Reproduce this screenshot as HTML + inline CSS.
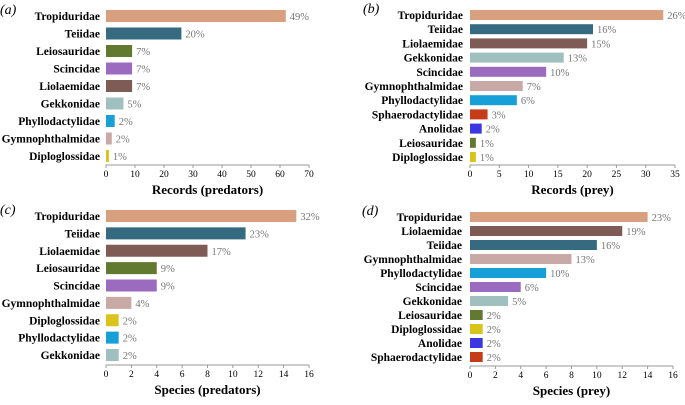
<!DOCTYPE html>
<html><head><meta charset="utf-8"><style>
body{margin:0;background:#fff;width:685px;height:400px;overflow:hidden}
svg text{font-family:"Liberation Serif",serif}
</style></head><body>
<svg id="c" width="685" height="400"></svg>
<script>
const colors={Tropiduridae:"#d8a07f",Teiidae:"#356a80",Leiosauridae:"#627a2f",Scincidae:"#9b6bc0",Liolaemidae:"#7e5b55",Gekkonidae:"#a0bfbf",Phyllodactylidae:"#17a0d8",Gymnophthalmidae:"#c8a9a6",Diploglossidae:"#d9c41b",Sphaerodactylidae:"#c63b18",Anolidae:"#3a38e0"};
const catsA=["Tropiduridae","Teiidae","Leiosauridae","Scincidae","Liolaemidae","Gekkonidae","Phyllodactylidae","Gymnophthalmidae","Diploglossidae"];
const valsA=[62,26,9,9,9,6,3,2,1];
const pctA=["49%","20%","7%","7%","7%","5%","2%","2%","1%"];
const catsB=["Tropiduridae","Teiidae","Liolaemidae","Gekkonidae","Scincidae","Gymnophthalmidae","Phyllodactylidae","Sphaerodactylidae","Anolidae","Leiosauridae","Diploglossidae"];
const valsB=[33,21,20,16,13,9,8,3,2,1,1];
const pctB=["26%","16%","15%","13%","10%","7%","6%","3%","2%","1%","1%"];
const catsC=["Tropiduridae","Teiidae","Liolaemidae","Leiosauridae","Scincidae","Gymnophthalmidae","Diploglossidae","Phyllodactylidae","Gekkonidae"];
const valsC=[15,11,8,4,4,2,1,1,1];
const pctC=["32%","23%","17%","9%","9%","4%","2%","2%","2%"];
const catsD=["Tropiduridae","Liolaemidae","Teiidae","Gymnophthalmidae","Phyllodactylidae","Scincidae","Gekkonidae","Leiosauridae","Diploglossidae","Anolidae","Sphaerodactylidae"];
const valsD=[14,12,10,8,6,4,3,1,1,1,1];
const pctD=["23%","19%","16%","13%","10%","6%","5%","2%","2%","2%","2%"];
const ticksA=[0,10,20,30,40,50,60,70],ticksB=[0,5,10,15,20,25,30,35],ticksC=[0,2,4,6,8,10,12,14,16],ticksD=[0,2,4,6,8,10,12,14,16];
const svg=document.getElementById('c');const NS="http://www.w3.org/2000/svg";
function mk(t,a,txt){const e=document.createElementNS(NS,t);for(const k in a)e.setAttribute(k,a[k]);if(txt!==undefined)e.textContent=txt;svg.appendChild(e);return e;}
function panel(id,letter,cats,vals,pcts,ticks,title,x0,x1,yTop,yBot,axisY,bh,lx){
  const max=ticks[ticks.length-1];const sx=v=>x0+(x1-x0)*v/max;
  const step=(yBot-yTop)/(cats.length-1);
  let e=mk('text',{x:lx-100,y:yTop-2,'font-size':14,'font-style':'italic'},'('+letter+')');
  
  cats.forEach((c,i)=>{const cy=yTop+i*step;
    let t=mk('text',{x:lx,y:cy+4,'font-size':11.5,'font-weight':'bold','text-anchor':'end'},c);
    
    let r=mk('rect',{x:x0,y:cy-bh/2,width:sx(vals[i])-x0,height:bh,fill:colors[c]});
    
    let p=mk('text',{x:sx(vals[i])+4,y:cy+4,'font-size':10.5,fill:'#777'},pcts[i]);
    
  });
  let ax=mk('line',{x1:x0,x2:x1,y1:axisY,y2:axisY,stroke:'#999','stroke-width':1});
  
  ticks.forEach(v=>{mk('line',{x1:sx(v),x2:sx(v),y1:axisY,y2:axisY+3,stroke:'#999'});
    let t=mk('text',{x:sx(v),y:axisY+12,'font-size':9.5,'text-anchor':'middle'},v);
    });
  let tt=mk('text',{x:(x0+x1)/2,y:axisY+29,'font-size':13,'font-weight':'bold','text-anchor':'middle'},title);
  
}
panel('a','a',catsA,valsA,pctA,ticksA,'Records (predators)',106,309,16,156,165,12,100);
panel('b','b',catsB,valsB,pctB,ticksB,'Records (prey)',470,675,15,157,165,10,463);
panel('c','c',catsC,valsC,pctC,ticksC,'Species (predators)',106,309,216,355,365,12,100);
panel('d','d',catsD,valsD,pctD,ticksD,'Species (prey)',470,673,217,357,366,10,462);
</script>
</body></html>
